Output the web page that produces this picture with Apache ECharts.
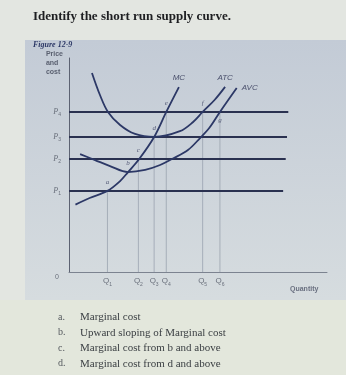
<!DOCTYPE html>
<html><head><meta charset="utf-8">
<script src="https://cdn.jsdelivr.net/npm/echarts@6/dist/echarts.min.js"></script>
<style>html,body{margin:0;padding:0;background:#e3e6e1;}#c{width:346px;height:375px;}</style>
</head><body><div id="c"></div>
<script>
// ---- data ----
const priceNames = ['P1', 'P2', 'P3', 'P4'];
const priceValues = [37.9, 52.8, 63.1, 74.8];
const priceLineEnds = [83, 84, 84.5, 85];
const qtyNames = ['Q1', 'Q2', 'Q3', 'Q4', 'Q5', 'Q6'];
const qtyValues = [14.9, 26.9, 33.0, 37.7, 51.8, 58.5];
const qtyTops = [37.9, 52.8, 63.1, 74.8, 74.8, 74.8];
const mcX = [2.5, 8, 14.9, 19.8, 22.9, 27.2, 33.0, 37.7, 42.6];
const mcY = [31.5, 34.6, 37.9, 42.5, 46.7, 52.8, 63.1, 74.8, 86.4];
const atcX = [8.9, 12.0, 15.1, 19.8, 25.6, 33.0, 43.0, 48.0, 51.8, 56.5, 60.5];
const atcY = [93.0, 82.7, 74.8, 68.7, 64.5, 63.1, 65.8, 70.0, 74.8, 80.5, 86.5];
const avcX = [4.3, 10.1, 15.9, 22.9, 29.5, 35.3, 39.9, 46.1, 50.8, 54.5, 58.5, 65.0];
const avcY = [55.1, 52.3, 49.5, 46.7, 47.7, 50.0, 52.8, 57.0, 62.6, 67.5, 74.8, 86.0];
const pointNames = ['a', 'b', 'c', 'd', 'e', 'f', 'g'];
const pointX = [14.9, 22.9, 26.9, 33.0, 37.7, 51.8, 58.5];
const pointY = [37.9, 46.7, 52.8, 63.1, 74.8, 74.8, 74.8];
const curveNames = ['MC', 'ATC', 'AVC'];
const options = [['a.', 'Marginal cost'], ['b.', 'Upward sloping of Marginal cost'], ['c.', 'Marginal cost from b and above'], ['d.', 'Marginal cost from d and above']];

// ---- styles ----
const navy = '#2c3866';
const pointLabelStyle = {a: ['top', [-1, -1]], b: ['top', [-2, -1]], c: ['top', [-4, -1]], d: ['top', [-4, -1]], e: ['top', [-3, 0]], f: ['top', [0, -1]], g: ['bottom', [5, -2]]};
const curveLabelStyle = {MC: ['top', [3, -1]], ATC: ['top', [2, -1]], AVC: ['right', [-3, 3]]};

const zip = (xs, ys) => xs.map((x, i) => [x, ys[i]]);
const curves = {MC: [mcX, mcY], ATC: [atcX, atcY], AVC: [avcX, avcY]};
const series = [];
qtyValues.forEach((q, i) => series.push({type: 'line', data: [[q, 0], [q, qtyTops[i]]], symbol: 'none', lineStyle: {color: '#9ba3b0', width: 0.8}, z: 2}));
priceValues.forEach((p, i) => series.push({type: 'line', data: [[0, p], [priceLineEnds[i], p]], symbol: 'none', lineStyle: {color: '#2a3150', width: 2}, z: 3}));
curveNames.forEach(n => series.push({type: 'line', name: n, data: zip(curves[n][0], curves[n][1]), smooth: 0.35, showSymbol: false, symbol: 'none', lineStyle: {color: navy, width: 1.8}, z: 4}));
series.push({type: 'scatter', symbolSize: 0, z: 6, labelLayout: {hideOverlap: false},
  data: curveNames.map(n => { const xs = curves[n][0], ys = curves[n][1]; return {value: [xs[xs.length - 1], ys[ys.length - 1]], label: {show: true, position: curveLabelStyle[n][0], formatter: n, offset: curveLabelStyle[n][1], color: '#2a3050', fontSize: 8, fontStyle: 'italic', fontFamily: 'Liberation Sans'}}; })});
series.push({type: 'scatter', symbolSize: 0, z: 6, labelLayout: {hideOverlap: false},
  data: pointNames.map((n, i) => ({value: [pointX[i], pointY[i]], name: n, label: {show: true, formatter: n, position: pointLabelStyle[n][0], offset: pointLabelStyle[n][1], color: '#3a4060', fontSize: 7, fontStyle: 'italic', fontFamily: 'Liberation Serif'}}))});

const chart = echarts.init(document.getElementById('c'));
const graphic = [
  {type: 'rect', z: -10, shape: {x: 25, y: 40, width: 321, height: 260}, style: {fill: new echarts.graphic.LinearGradient(0, 0, 0, 1, [{offset: 0, color: '#c3cbd6'}, {offset: 1, color: '#d6dcdf'}])}},
  {type: 'rect', z: -11, shape: {x: 0, y: 300, width: 346, height: 75}, style: {fill: '#e3e7dc'}},
  {type: 'text', left: 33, top: 10, style: {text: 'Identify the short run supply curve.', font: 'bold 13px "Liberation Serif"', fill: '#1e1f22'}},
  {type: 'text', left: 33, top: 41, style: {text: 'Figure 12-9', font: 'italic bold 8px "Liberation Serif"', fill: '#2c3866'}},
  {type: 'text', right: 283, top: 50, style: {text: 'Price\nand\ncost', font: 'bold 7px "Liberation Sans"', fill: '#5a6070', align: 'right', lineHeight: 9}},
  {type: 'text', left: 55, top: 274, style: {text: '0', font: '7px "Liberation Sans"', fill: '#6a707c'}},
  {type: 'text', left: 290, top: 286, style: {text: 'Quantity', font: 'bold 7px "Liberation Sans"', fill: '#6a7080'}}
];
options.forEach((o, i) => {
  graphic.push({type: 'text', left: 58, top: 312 + i * 15.5, style: {text: o[0], font: '10px "Liberation Serif"', fill: '#55595e'}});
  graphic.push({type: 'text', left: 80, top: 312 + i * 15.5, style: {text: o[1], font: '11px "Liberation Serif"', fill: '#3c4044'}});
});
chart.setOption({
  animation: false,
  backgroundColor: 'transparent',
  graphic: graphic,
  grid: {left: 69, top: 58, right: 19, bottom: 103},
  xAxis: {type: 'value', min: 0, max: 100, splitLine: {show: false}, axisTick: {show: false},
    axisLine: {show: true, lineStyle: {color: '#7c8390', width: 1}},
    axisLabel: {customValues: qtyValues, margin: 5, color: '#6a707c', fontSize: 7, fontFamily: 'Liberation Sans',
      formatter: v => { const i = qtyValues.indexOf(v); return i < 0 ? '' : '{q|Q}{s|' + qtyNames[i].slice(1) + '}'; },
      rich: {q: {fontSize: 8, color: '#6a707c', verticalAlign: 'top'}, s: {fontSize: 5, color: '#6a707c', padding: [5, 0, 0, 0]}}}},
  yAxis: {type: 'value', min: 0, max: 100, splitLine: {show: false}, axisTick: {show: false},
    axisLine: {show: true, lineStyle: {color: '#5c6272', width: 1}},
    axisLabel: {customValues: priceValues, margin: 8, color: '#6a707c',
      formatter: v => { const i = priceValues.indexOf(v); return i < 0 ? '' : '{p|P}{s|' + priceNames[i].slice(1) + '}'; },
      rich: {p: {fontSize: 8, fontStyle: 'italic', fontFamily: 'Liberation Serif', color: '#6a707c'}, s: {fontSize: 5, color: '#6a707c', padding: [5, 0, 0, 0]}}}},
  series: series
});
</script></body></html>
